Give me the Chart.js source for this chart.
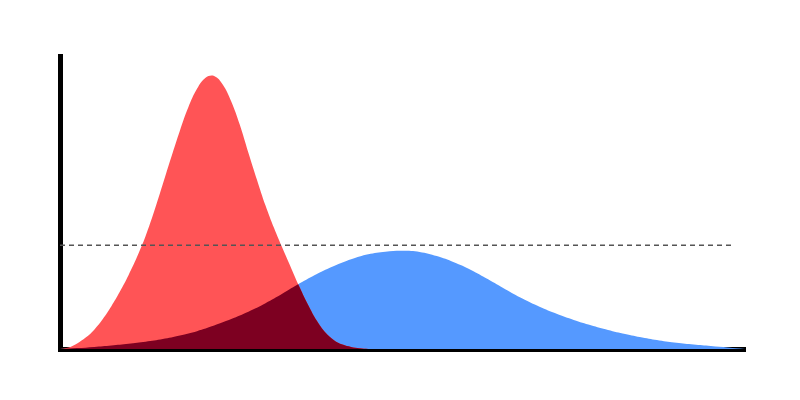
<!DOCTYPE html>
<html lang="en">
<head>
    <meta charset="UTF-8">
    <title>Two Distributions</title>
    <script src="https://cdn.jsdelivr.net/npm/chart.js"></script>
    <style>
        body {
            margin: 0;
            background: #ffffff;
        }
    </style>
</head>
<body>
    <canvas id="distChart" width="800" height="400"></canvas>

    <script>
        // narrow red distribution (x in arbitrary units 0..100)
        const redX = [0, 1.25, 2.5, 3.75, 5, 6.25, 7.5, 8.75, 10, 11.25, 12.5, 13.75, 15, 16.25, 17.5, 18.75, 20, 21.25, 22.5,
                      23.75, 25, 26.25, 27.5, 28.75, 30, 31.25, 32.5, 33.75, 35, 36.25, 37.5, 38.75, 40, 41.25, 42.5, 43.75, 45];
        const redValues = [0, 0.5, 1.9, 3.9, 6.6, 10.2, 14.6, 19.6, 25.2, 31.5, 38.6, 47.0, 56.2, 65.5, 74.5, 82.6, 88.8, 92.6, 93.2,
                           90.3, 84.5, 76.5, 67, 57.8, 49, 41.3, 34.3, 27.6, 21.0, 14.9, 9.6, 5.6, 3.0, 1.5, 0.7, 0.25, 0];

        // wide blue distribution
        const blueX = [0, 2.5, 5, 7.5, 10, 12.5, 15, 17.5, 20, 22.5, 25, 27.5, 30, 32.5, 35, 37.5, 40, 42.5, 45, 47.5,
                       50, 52.5, 55, 57.5, 60, 62.5, 65, 67.5, 70, 72.5, 75, 77.5, 80, 82.5, 85, 87.5, 90, 92.5, 95, 97.5, 100];
        const blueValues = [0, 0.3, 0.7, 1.2, 1.8, 2.5, 3.4, 4.6, 6.1, 8.0, 10.2, 12.7, 15.6, 18.9, 22.4, 25.6, 28.3, 30.6, 32.3, 33.2,
                            33.5, 33.1, 31.7, 29.6, 27.0, 23.8, 20.4, 17.2, 14.4, 12.0, 9.9, 8.1, 6.5, 5.1, 3.9, 2.9, 2.1, 1.5, 1.0, 0.5, 0];

        // dashed reference level
        const thresholdX = [0, 98.5];
        const thresholdY = [35.4, 35.4];

        const toPoints = (xs, vals) => vals.map((v, i) => ({ x: xs[i], y: v }));

        const area = (data, color, order) => ({
            data: data,
            backgroundColor: color,
            borderColor: color,
            borderWidth: 0,
            pointRadius: 0,
            fill: 'origin',
            tension: 0.4,
            order: order
        });

        // paint the part where the two areas overlap in dark red
        const overlapPlugin = {
            id: 'overlap',
            afterDatasetsDraw(chart) {
                const ctx = chart.ctx;
                const base = chart.scales.y.getPixelForValue(0);
                const trace = (line) => {
                    const pts = line.points;
                    ctx.beginPath();
                    line.path(ctx);
                    ctx.lineTo(pts[pts.length - 1].x, base);
                    ctx.lineTo(pts[0].x, base);
                    ctx.closePath();
                };
                const red = chart.getDatasetMeta(1).dataset;
                const blue = chart.getDatasetMeta(2).dataset;
                ctx.save();
                trace(red);
                ctx.clip();
                trace(blue);
                ctx.fillStyle = '#7d0021';
                ctx.fill();
                ctx.restore();
            }
        };

        new Chart(document.getElementById('distChart'), {
            type: 'line',
            data: {
                datasets: [
                    {
                        data: toPoints(thresholdX, thresholdY),
                        borderColor: '#555555',
                        borderWidth: 1.5,
                        borderDash: [5, 4],
                        pointRadius: 0,
                        fill: false,
                        order: 0
                    },
                    area(toPoints(redX, redValues), '#ff5456', 1),
                    area(toPoints(blueX, blueValues), '#5599ff', 2)
                ]
            },
            options: {
                responsive: false,
                animation: false,
                layout: {
                    padding: { left: 60, right: 55, top: 56, bottom: 51 }
                },
                plugins: {
                    legend: { display: false },
                    tooltip: { enabled: false }
                },
                scales: {
                    x: {
                        type: 'linear',
                        min: 0,
                        max: 100,
                        z: 1,
                        grid: { display: false, drawTicks: false },
                        ticks: { display: false },
                        border: { color: '#000000', width: 5 }
                    },
                    y: {
                        min: 0,
                        max: 100,
                        z: 1,
                        grid: { display: false, drawTicks: false },
                        ticks: { display: false },
                        border: { color: '#000000', width: 5 }
                    }
                }
            },
            plugins: [overlapPlugin]
        });
    </script>
</body>
</html>
